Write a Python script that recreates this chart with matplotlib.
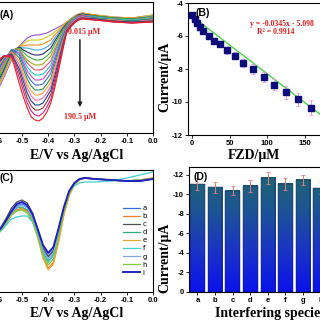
import numpy as np
import matplotlib
matplotlib.use('Agg')
import matplotlib.pyplot as plt
from matplotlib.colors import LinearSegmentedColormap

plt.rcParams['axes.unicode_minus'] = False
SERIF = ['Liberation Serif', 'DejaVu Serif']
SANS = ['Liberation Sans', 'DejaVu Sans']

# ---------------- Panel A: DPV curves at increasing FZD concentration ----------------
a_potential = [-0.60, -0.57, -0.54, -0.525, -0.51, -0.495, -0.48, -0.465, -0.45, -0.435,
               -0.42, -0.405, -0.39, -0.375, -0.36, -0.345, -0.33, -0.315, -0.30, -0.285,
               -0.27, -0.22, -0.15, -0.08, 0.0]
# current (a.u., larger = more cathodic); one row per potential, one column per concentration
a_current_rows = [
    [94, 92, 90, 88, 86, 84, 82, 80, 78, 76, 74, 72, 70, 68, 66, 64, 63, 62],
    [78, 76, 74, 72, 70, 68, 66, 64, 62, 61, 60, 59, 58, 57, 57, 56, 56, 56],
    [60, 58, 56, 54, 52, 51, 50, 50, 50, 50, 50, 51, 52, 53, 54, 55, 56, 57],
    [53, 52, 51, 50, 49, 49, 49, 50, 50, 51, 52, 54, 56, 58, 61, 63, 66, 70],
    [46, 46, 46, 47, 47, 48, 49, 50, 51, 53, 55, 58, 61, 65, 69, 73, 78, 84],
    [42, 44, 46, 48, 50, 52, 55, 57, 59, 62, 65, 69, 73, 77, 81, 86, 91, 97],
    [38, 41, 45, 48, 52, 56, 60, 63, 67, 71, 75, 79, 84, 88, 93, 98, 103, 108],
    [36, 40, 45, 49, 54, 58, 63, 67, 72, 76, 81, 86, 91, 96, 101, 106, 111, 117],
    [35, 40, 45, 50, 55, 60, 65, 70, 75, 80, 85, 90, 95, 100, 105, 110, 115, 120],
    [35, 40, 45, 50, 55, 60, 65, 70, 75, 80, 85, 90, 95, 100, 105, 110, 116, 121],
    [34, 39, 44, 49, 54, 59, 64, 69, 74, 79, 84, 89, 93, 98, 103, 108, 113, 118],
    [33, 37, 42, 47, 51, 56, 60, 65, 70, 74, 79, 84, 88, 93, 97, 102, 107, 112],
    [31, 35, 40, 44, 48, 52, 56, 61, 65, 69, 73, 78, 82, 86, 90, 94, 99, 103],
    [29, 32, 35, 38, 41, 44, 48, 51, 54, 58, 61, 65, 68, 72, 76, 80, 84, 88],
    [27, 29, 31, 33, 35, 37, 40, 42, 44, 47, 49, 52, 55, 58, 61, 64, 67, 70],
    [25, 26, 27, 28, 29, 30, 32, 33, 34, 36, 37, 39, 41, 43, 45, 47, 49, 51],
    [22, 22, 23, 24, 24, 25, 26, 26, 27, 28, 28, 29, 30, 30, 31, 32, 32, 33],
    [19, 19, 20, 20, 21, 21, 22, 22, 23, 23, 24, 24, 25, 25, 26, 26, 27, 27],
    [16, 16, 17, 17, 18, 18, 18, 19, 19, 20, 20, 21, 21, 21, 22, 22, 23, 23],
    [14, 14, 15, 15, 15, 16, 16, 16, 17, 17, 17, 18, 18, 18, 19, 19, 20, 20],
    [13, 13, 14, 14, 14, 15, 15, 15, 16, 16, 16, 17, 17, 17, 18, 18, 19, 19],
    [15, 15, 15, 16, 16, 16, 17, 17, 17, 18, 18, 18, 19, 19, 19, 20, 20, 20],
    [17, 17, 18, 18, 18, 18, 19, 19, 19, 20, 20, 20, 20, 21, 21, 21, 22, 22],
    [18, 18, 18, 19, 19, 19, 20, 20, 20, 21, 21, 21, 22, 22, 22, 23, 23, 23],
    [15, 15, 16, 16, 17, 17, 17, 18, 18, 19, 19, 19, 20, 20, 21, 21, 22, 22],
]
a_colors = ['#9c4fd6', '#d8c81e', '#f08c1a', '#4aa3df', '#2b2b6b', '#3cb043',
            '#a8a820', '#e0506e', '#25c6c6', '#c84fc8', '#3d6fd6', '#2e8b57',
            '#ff9f40', '#e86fa8', '#1f3f8f', '#8b3a3a', '#d02090', '#e82020']

# ---------------- Panel B: calibration ----------------
b_conc = [0.5, 4, 7, 11, 15, 22, 29, 37, 47, 57, 68, 81, 95, 109, 125, 140, 158]
b_current = [-4.72, -4.98, -5.22, -5.43, -5.67, -5.97, -6.33, -6.47, -6.87, -7.19,
             -7.63, -7.98, -8.48, -8.94, -9.40, -9.84, -10.35]
b_err = [0.10, 0.12, 0.12, 0.15, 0.15, 0.15, 0.18, 0.18, 0.20, 0.20, 0.25, 0.30,
         0.30, 0.35, 0.40, 0.40, 0.45]
b_fit = [-0.035, -4.80]   # slope, intercept of drawn line
b_fit_x = [-5.3, 180]

# ---------------- Panel C: interference DPV curves ----------------
c_potential = [-0.60, -0.58, -0.56, -0.54, -0.52, -0.50, -0.48, -0.46, -0.44, -0.42,
               -0.40, -0.38, -0.36, -0.34, -0.32, -0.30, -0.28, -0.26, -0.22, -0.16,
               -0.10, -0.05, 0.0]
c_labels = ['a', 'b', 'c', 'd', 'e', 'f', 'g', 'h', 'i']
c_a = [234, 229, 221, 212, 206, 204, 207, 216, 231, 248, 256, 250, 230, 208, 192, 183, 179, 178, 179, 180, 181, 180, 178]
c_b = [235, 230, 223, 215, 210, 208, 211, 220, 236, 256, 268, 262, 240, 214, 195, 184, 179, 178, 179, 180, 181, 180, 178]
c_c = [233, 227, 218, 208, 202, 200, 203, 213, 230, 248, 257, 251, 231, 208, 192, 183, 179, 178, 179, 180, 181, 181, 179]
c_d = [235, 229, 222, 213, 208, 207, 210, 219, 234, 252, 261, 255, 234, 211, 193, 184, 179, 178, 179, 180, 181, 180, 179]
c_e = [235, 230, 223, 215, 211, 209, 212, 221, 238, 258, 270, 264, 242, 215, 196, 185, 180, 178, 179, 180, 181, 180, 178]
c_f = [236, 231, 225, 219, 217, 216, 216, 222, 236, 254, 263, 255, 232, 208, 192, 186, 183, 182, 182, 181, 178, 175, 172]
c_g = [234, 229, 221, 212, 207, 205, 208, 217, 232, 250, 259, 253, 232, 209, 192, 183, 179, 178, 179, 180, 181, 180, 179]
c_h = [235, 230, 223, 215, 211, 210, 213, 221, 236, 255, 265, 259, 237, 212, 194, 184, 179, 178, 179, 180, 181, 180, 179]
c_i = [234, 228, 220, 211, 204, 202, 205, 214, 229, 245, 253, 247, 228, 207, 191, 183, 179, 178, 179, 180, 181, 181, 179]
c_curves = [c_a, c_b, c_c, c_d, c_e, c_f, c_g, c_h, c_i]
c_colors = ['#2f6fd6', '#f08030', '#505050', '#30a880', '#e8a830', '#40d0d0',
            '#80a8e8', '#80c840', '#2020c0']

# ---------------- Panel D: interfering species bars ----------------
d_species = ['a', 'b', 'c', 'd', 'e', 'f', 'g', 'h', 'i']
d_current = [-11.05, -10.75, -10.4, -10.9, -11.72, -11.08, -11.5, -10.65, -11.0]
d_err = [0.6, 0.55, 0.5, 0.6, 0.6, 0.6, 0.55, 0.6, 0.6]

W = H = 320.0
fig = plt.figure(figsize=(3.2, 3.2), dpi=100)


def px_rect(l, t, r, b):
    return [l / W, 1 - b / H, (r - l) / W, (b - t) / H]


def ftext(x, y, s, **kw):
    fig.text(x / W, 1 - y / H, s, **kw)


tick_kw = dict(labelsize=5.5, length=2, width=0.6, pad=1.5, direction='out')


def style_ticks(ax):
    for lab in ax.get_xticklabels() + ax.get_yticklabels():
        lab.set_fontweight('bold')
        lab.set_family(SANS)
    for s in ax.spines.values():
        s.set_linewidth(0.8)


# ---- A ----
axA = fig.add_axes(px_rect(-17.3, 2, 153, 133))
cols = np.array(a_current_rows).T
for k, col in enumerate(cols):
    axA.plot(a_potential, col, color=a_colors[k], lw=0.8)
axA.set_xlim(-0.65, 0.0)
axA.set_ylim(133, 2)
axA.set_xticks([-0.6, -0.5, -0.4, -0.3, -0.2, -0.1, 0.0])
axA.set_xticklabels(['-0.6', '-0.5', '-0.4', '-0.3', '-0.2', '-0.1', '0.0'])
axA.set_yticks([])
axA.tick_params(**tick_kw)
style_ticks(axA)
axA.annotate('', xy=(-0.279, 110), xytext=(-0.279, 37),
             arrowprops=dict(arrowstyle='-|>', color='#202020', lw=1.1, mutation_scale=6))
axA.text(-0.326, 32, '0.015 μM', color='#e02020', fontsize=5.8, fontweight='bold',
         family=SERIF, ha='left', va='center')
axA.text(-0.279, 117, '190.5 μM', color='#e02020', fontsize=5.8, fontweight='bold',
         family=SERIF, ha='center', va='center')
ftext(0, 15, '(A)', fontsize=7.5, fontweight='bold', family=SANS, ha='left', va='center')
ftext(77, 155, 'E/V vs Ag/AgCl', fontsize=10, fontweight='bold', family=SERIF,
      ha='center', va='center')

# ---- B ----
axB = fig.add_axes(px_rect(188, 3, 327.7, 135))
fx = np.array(b_fit_x)
axB.plot(fx, b_fit[0] * fx + b_fit[1], color='#4cd44c', lw=1.0, zorder=2)
axB.errorbar(b_conc, b_current, yerr=b_err, fmt='s', color='#0c0c7a', ms=4.3,
             ecolor='#e49be4', elinewidth=0.7, capsize=1.5, capthick=0.6, zorder=3)
axB.set_xlim(-5.3, 180)
axB.set_ylim(-12, -4)
axB.set_xticks([0, 50, 100, 150])
axB.set_yticks([-4, -6, -8, -10, -12])
axB.tick_params(**tick_kw)
style_ticks(axB)
ftext(196, 13, '(B)', fontsize=7.5, fontweight='bold', family=SANS, ha='left', va='center')
ftext(250, 24, 'y = -0.0345x - 5.098', color='#e02020', fontsize=5.6, fontweight='bold',
      family=SERIF, ha='left', va='center')
ftext(257, 32, 'R² = 0.9914', color='#e02020', fontsize=5.6, fontweight='bold',
      family=SERIF, ha='left', va='center')
ftext(254, 155, 'FZD/μM', fontsize=10, fontweight='bold', family=SERIF,
      ha='center', va='center')
ftext(165, 77, 'Current/μA', fontsize=10, fontweight='bold', family=SERIF,
      ha='center', va='center', rotation=90)

# ---- C ----
axC = fig.add_axes(px_rect(-17.3, 170, 153, 292))
for lab, curve, col in zip(c_labels, c_curves, c_colors):
    axC.plot(c_potential, curve, color=col, lw=1.4 if lab == 'i' else 0.9, label=lab)
axC.set_xlim(-0.65, 0.0)
axC.set_ylim(292, 170)
axC.set_xticks([-0.6, -0.5, -0.4, -0.3, -0.2, -0.1, 0.0])
axC.set_xticklabels(['-0.6', '-0.5', '-0.4', '-0.3', '-0.2', '-0.1', '0.0'])
axC.set_yticks([])
axC.tick_params(**tick_kw)
style_ticks(axC)
leg = axC.legend(loc='upper left', bbox_to_anchor=(123 / W, 1 - 205 / H),
                 bbox_transform=fig.transFigure, frameon=False, fontsize=5,
                 handlelength=2.4, handletextpad=0.4, labelspacing=0.3,
                 borderpad=0, borderaxespad=0)
ftext(0, 178, '(C)', fontsize=7.5, fontweight='bold', family=SANS, ha='left', va='center')
ftext(77, 313, 'E/V vs Ag/AgCl', fontsize=10, fontweight='bold', family=SERIF,
      ha='center', va='center')

# ---- D ----
axD = fig.add_axes(px_rect(189, 167, 347, 292))
cmap = LinearSegmentedColormap.from_list('bars', ['#0a12ec', '#1a34c4', '#1d5592', '#1f6a6c'])
ylo = 12.82
xpos = np.arange(len(d_species))
bw = 0.83
for x, v in zip(xpos, d_current):
    grad = np.linspace(0, abs(v) / ylo, 256).reshape(-1, 1)
    axD.imshow(grad, cmap=cmap, vmin=0, vmax=1, origin='lower', aspect='auto',
               extent=[x - bw / 2, x + bw / 2, 0, v], zorder=2)
axD.bar(xpos, d_current, width=bw, color='none', edgecolor='#101840', lw=0.3, zorder=3)
axD.errorbar(xpos, d_current, yerr=d_err, fmt='none', ecolor='#f07a7a', elinewidth=0.7,
             capsize=1.5, capthick=0.6, zorder=4)
axD.set_xlim(-0.48, 8.5)
axD.set_ylim(0, -ylo)
axD.set_xticks(xpos)
axD.set_xticklabels(d_species)
axD.set_yticks([0, -2, -4, -6, -8, -10, -12])
axD.tick_params(**tick_kw)
style_ticks(axD)
ftext(193, 177, '(D)', fontsize=7.5, fontweight='bold', family=SANS, ha='left', va='center')
ftext(270, 313, 'Interfering species', fontsize=10, fontweight='bold', family=SERIF,
      ha='center', va='center')
ftext(165, 258, 'Current/μA', fontsize=10, fontweight='bold', family=SERIF,
      ha='center', va='center', rotation=90)

fig.savefig('out.png', dpi=100)
